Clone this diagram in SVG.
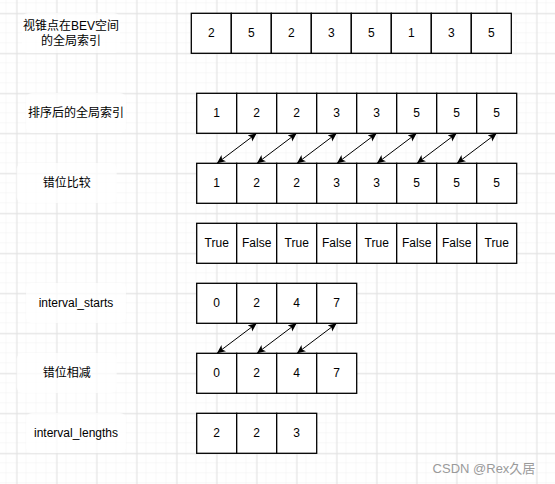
<svg xmlns="http://www.w3.org/2000/svg" width="555" height="484" viewBox="0 0 555 484">
<defs>
<pattern id="minor" x="6.5" y="3.3" width="10" height="10" patternUnits="userSpaceOnUse">
<path d="M10 0V10M0 10H10" fill="none" stroke="#f1f1f1" stroke-width="1"/>
</pattern>
<pattern id="major" x="16.5" y="13.3" width="40" height="40" patternUnits="userSpaceOnUse">
<path d="M0.5 0V40M0 0.5H40" fill="none" stroke="#e2e2e2" stroke-width="1"/>
</pattern>
<marker id="ah" viewBox="0 0 10 10" refX="9.5" refY="5" markerWidth="8.5" markerHeight="8.5" orient="auto-start-reverse" markerUnits="userSpaceOnUse">
<path d="M0 0.5L10 5L0 9.5L2.5 5Z" fill="#000"/>
</marker>
</defs>
<style>
.c{fill:#fff;stroke:#000;stroke-width:1.3}
.t{font-family:"Liberation Sans",Arial,"Noto Sans CJK SC",sans-serif;font-size:12px;fill:#000;text-anchor:middle;dominant-baseline:central}
.lb{fill:#fff;fill-opacity:0.75}
.ar{stroke:#000;stroke-width:1;fill:none;marker-start:url(#ah);marker-end:url(#ah)}
</style>
<rect width="555" height="484" fill="#fff"/>
<rect width="555" height="484" fill="url(#minor)"/>
<rect width="555" height="484" fill="url(#major)"/>

<g id="label-bev">
<rect class="lb" x="22" y="13" width="98" height="40" rx="6"/>
<text class="t" x="71" y="26">视锥点在BEV空间</text>
<text class="t" x="71" y="41">的全局索引</text>
</g>
<g id="row-bev">
<rect class="c" x="191.3" y="13.3" width="40" height="40"/><text class="t" x="211.3" y="33.3">2</text>
<rect class="c" x="231.3" y="13.3" width="40" height="40"/><text class="t" x="251.3" y="33.3">5</text>
<rect class="c" x="271.3" y="13.3" width="40" height="40"/><text class="t" x="291.3" y="33.3">2</text>
<rect class="c" x="311.3" y="13.3" width="40" height="40"/><text class="t" x="331.3" y="33.3">3</text>
<rect class="c" x="351.3" y="13.3" width="40" height="40"/><text class="t" x="371.3" y="33.3">5</text>
<rect class="c" x="391.3" y="13.3" width="40" height="40"/><text class="t" x="411.3" y="33.3">1</text>
<rect class="c" x="431.3" y="13.3" width="40" height="40"/><text class="t" x="451.3" y="33.3">3</text>
<rect class="c" x="471.3" y="13.3" width="40" height="40"/><text class="t" x="491.3" y="33.3">5</text>
</g>

<g id="label-sorted">
<rect class="lb" x="26" y="93" width="100" height="40" rx="6"/>
<text class="t" x="76" y="113">排序后的全局索引</text>
</g>
<g id="row-sorted">
<rect class="c" x="196.7" y="93.3" width="40" height="40"/><text class="t" x="216.7" y="113.3">1</text>
<rect class="c" x="236.7" y="93.3" width="40" height="40"/><text class="t" x="256.7" y="113.3">2</text>
<rect class="c" x="276.7" y="93.3" width="40" height="40"/><text class="t" x="296.7" y="113.3">2</text>
<rect class="c" x="316.7" y="93.3" width="40" height="40"/><text class="t" x="336.7" y="113.3">3</text>
<rect class="c" x="356.7" y="93.3" width="40" height="40"/><text class="t" x="376.7" y="113.3">3</text>
<rect class="c" x="396.7" y="93.3" width="40" height="40"/><text class="t" x="416.7" y="113.3">5</text>
<rect class="c" x="436.7" y="93.3" width="40" height="40"/><text class="t" x="456.7" y="113.3">5</text>
<rect class="c" x="476.7" y="93.3" width="40" height="40"/><text class="t" x="496.7" y="113.3">5</text>
</g>

<g id="label-compare">
<rect class="lb" x="16.7" y="163" width="100" height="40" rx="6"/>
<text class="t" x="66.7" y="183">错位比较</text>
</g>
<g id="row-compare">
<rect class="c" x="196.7" y="163.3" width="40" height="40"/><text class="t" x="216.7" y="183.3">1</text>
<rect class="c" x="236.7" y="163.3" width="40" height="40"/><text class="t" x="256.7" y="183.3">2</text>
<rect class="c" x="276.7" y="163.3" width="40" height="40"/><text class="t" x="296.7" y="183.3">2</text>
<rect class="c" x="316.7" y="163.3" width="40" height="40"/><text class="t" x="336.7" y="183.3">3</text>
<rect class="c" x="356.7" y="163.3" width="40" height="40"/><text class="t" x="376.7" y="183.3">3</text>
<rect class="c" x="396.7" y="163.3" width="40" height="40"/><text class="t" x="416.7" y="183.3">5</text>
<rect class="c" x="436.7" y="163.3" width="40" height="40"/><text class="t" x="456.7" y="183.3">5</text>
<rect class="c" x="476.7" y="163.3" width="40" height="40"/><text class="t" x="496.7" y="183.3">5</text>
</g>

<g id="row-bool">
<rect class="c" x="196.7" y="223.3" width="40" height="40"/><text class="t" x="216.7" y="243.3">True</text>
<rect class="c" x="236.7" y="223.3" width="40" height="40"/><text class="t" x="256.7" y="243.3">False</text>
<rect class="c" x="276.7" y="223.3" width="40" height="40"/><text class="t" x="296.7" y="243.3">True</text>
<rect class="c" x="316.7" y="223.3" width="40" height="40"/><text class="t" x="336.7" y="243.3">False</text>
<rect class="c" x="356.7" y="223.3" width="40" height="40"/><text class="t" x="376.7" y="243.3">True</text>
<rect class="c" x="396.7" y="223.3" width="40" height="40"/><text class="t" x="416.7" y="243.3">False</text>
<rect class="c" x="436.7" y="223.3" width="40" height="40"/><text class="t" x="456.7" y="243.3">False</text>
<rect class="c" x="476.7" y="223.3" width="40" height="40"/><text class="t" x="496.7" y="243.3">True</text>
</g>

<g id="label-starts">
<rect class="lb" x="26" y="283" width="100" height="40" rx="6"/>
<text class="t" x="76" y="303">interval_starts</text>
</g>
<g id="row-starts">
<rect class="c" x="196.7" y="283.3" width="40" height="40"/><text class="t" x="216.7" y="303.3">0</text>
<rect class="c" x="236.7" y="283.3" width="40" height="40"/><text class="t" x="256.7" y="303.3">2</text>
<rect class="c" x="276.7" y="283.3" width="40" height="40"/><text class="t" x="296.7" y="303.3">4</text>
<rect class="c" x="316.7" y="283.3" width="40" height="40"/><text class="t" x="336.7" y="303.3">7</text>
</g>

<g id="label-subtract">
<rect class="lb" x="16.7" y="353" width="100" height="40" rx="6"/>
<text class="t" x="66.7" y="373">错位相减</text>
</g>
<g id="row-subtract">
<rect class="c" x="196.7" y="353.3" width="40" height="40"/><text class="t" x="216.7" y="373.3">0</text>
<rect class="c" x="236.7" y="353.3" width="40" height="40"/><text class="t" x="256.7" y="373.3">2</text>
<rect class="c" x="276.7" y="353.3" width="40" height="40"/><text class="t" x="296.7" y="373.3">4</text>
<rect class="c" x="316.7" y="353.3" width="40" height="40"/><text class="t" x="336.7" y="373.3">7</text>
</g>

<g id="label-lengths">
<rect class="lb" x="26" y="413" width="100" height="40" rx="6"/>
<text class="t" x="76" y="433">interval_lengths</text>
</g>
<g id="row-lengths">
<rect class="c" x="196.7" y="413.3" width="40" height="40"/><text class="t" x="216.7" y="433.3">2</text>
<rect class="c" x="236.7" y="413.3" width="40" height="40"/><text class="t" x="256.7" y="433.3">2</text>
<rect class="c" x="276.7" y="413.3" width="40" height="40"/><text class="t" x="296.7" y="433.3">3</text>
</g>

<g id="connectors">
<line class="ar" x1="256.3" y1="133.6" x2="217.3" y2="163"/>
<line class="ar" x1="296.3" y1="133.6" x2="257.3" y2="163"/>
<line class="ar" x1="336.3" y1="133.6" x2="297.3" y2="163"/>
<line class="ar" x1="376.3" y1="133.6" x2="337.3" y2="163"/>
<line class="ar" x1="416.3" y1="133.6" x2="377.3" y2="163"/>
<line class="ar" x1="456.3" y1="133.6" x2="417.3" y2="163"/>
<line class="ar" x1="496.3" y1="133.6" x2="457.3" y2="163"/>
<line class="ar" x1="256.3" y1="323.6" x2="217.3" y2="353"/>
<line class="ar" x1="296.3" y1="323.6" x2="257.3" y2="353"/>
<line class="ar" x1="336.3" y1="323.6" x2="297.3" y2="353"/>
</g>

<text x="484" y="468" font-family="'Liberation Sans',Arial,'Noto Sans CJK SC',sans-serif" font-size="13" fill="#9a9a9a" text-anchor="middle" dominant-baseline="central">CSDN @Rex久居</text>
</svg>
